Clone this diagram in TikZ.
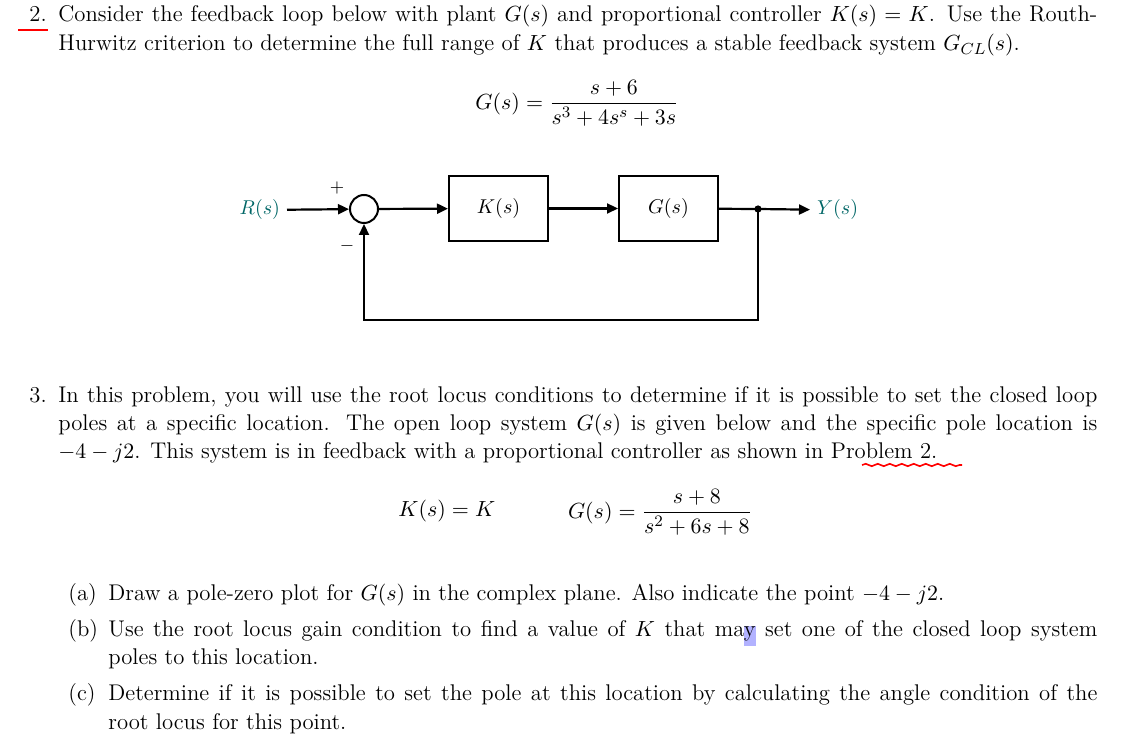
\documentclass[tikz,border=0pt]{standalone}
\usetikzlibrary{arrows.meta,decorations.pathmorphing}
\begin{document}
\begin{tikzpicture}[x=0.5pt,y=-0.5pt,
  txt/.style={anchor=base west,inner sep=0pt,font=\fontsize{11.35}{14}\selectfont},
  blk/.style={draw,line width=1pt,minimum width=49.5pt,minimum height=32.5pt,inner sep=0pt,font=\normalsize},
  sig/.style={line width=1.1pt,-{Triangle[length=5.5pt,width=5pt]}},
  lbl/.style={text=teal!80!black,font=\normalsize}]
\useasboundingbox (0,0) rectangle (1147,737);
% Problem 2
\node[txt] (n2) at (29,22) {2.};
\draw[red,thick] (18,30) -- (48,30);
\node[txt] (l1) at (58,22) {\makebox[519.5pt][s]{Consider the feedback loop below with plant $G(s)$ and proportional controller $K(s)=K$. Use the Routh-}};
\node[txt] (l2) at (58,51) {Hurwitz criterion to determine the full range of $K$ that produces a stable feedback system $G_{CL}(s)$.};
\node[inner sep=0pt,font=\fontsize{11.35}{14}\selectfont] (eq1) at (577,103) {$\displaystyle G(s)=\frac{s+6}{s^3+4s^s+3s}$};
% block diagram
\node[lbl,anchor=east] (R) at (287,210) {$R(s)$};
\node[draw,circle,line width=1pt,minimum size=14pt,inner sep=0pt] (sum) at (364,209) {};
\node[blk] (K) at (498.5,208.5) {$K(s)$};
\node[blk] (G) at (668.5,208.5) {$G(s)$};
\coordinate (tap) at (758,209);
\node[lbl,anchor=west] (Y) at (810,210) {$Y(s)$};
\node[font=\small] (plus) at (337,188) {$+$};
\node[font=\small] (minus) at (347,246) {$-$};
\draw[sig] (R) -- (sum);
\draw[sig] (sum) -- (K);
\draw[sig] (K) -- (G);
\draw[line width=1.1pt] (G) -- (tap);
\draw[sig] (tap) -- (Y);
\fill (tap) circle (1.8pt);
\coordinate (c1) at (758,320);
\coordinate (c2) at (364,320);
\draw[sig] (tap) -- (c1) -- (c2) -- (sum);
% Problem 3
\node[txt] (n3) at (29,403) {3.};
\node[txt] (m1) at (58,403) {\makebox[519.5pt][s]{In this problem, you will use the root locus conditions to determine if it is possible to set the closed loop}};
\node[txt] (m2) at (58,431) {\makebox[519.5pt][s]{poles at a specific location. The open loop system $G(s)$ is given below and the specific pole location is}};
\node[txt] (m3) at (58,459) {$-4-j2$. This system is in feedback with a proportional controller as shown in Problem 2.};
\draw[red,thick,decorate,decoration={snake,amplitude=0.6pt,segment length=6pt}] (862,465) -- (962,465);
\node[txt] (eqK) at (398,517) {$K(s)=K$};
\node[inner sep=0pt,font=\fontsize{11.35}{14}\selectfont] (eq2) at (660,512) {$\displaystyle G(s)=\frac{s+8}{s^2+6s+8}$};
% parts
\fill[blue!30] (744,626) rectangle (756,646);
\node[txt] (pa) at (68,601) {(a)};
\node[txt] (ta) at (108,601) {Draw a pole-zero plot for $G(s)$ in the complex plane. Also indicate the point $-4-j2$.};
\node[txt] (pb) at (68,637) {(b)};
\node[txt] (tb) at (108,637) {\makebox[494.5pt][s]{Use the root locus gain condition to find a value of $K$ that may set one of the closed loop system}};
\node[txt] (tb2) at (108,665) {poles to this location.};
\node[txt] (pc) at (68,701) {(c)};
\node[txt] (tc) at (108,701) {\makebox[494.5pt][s]{Determine if it is possible to set the pole at this location by calculating the angle condition of the}};
\node[txt] (tc2) at (108,729) {root locus for this point.};
\end{tikzpicture}
\end{document}
